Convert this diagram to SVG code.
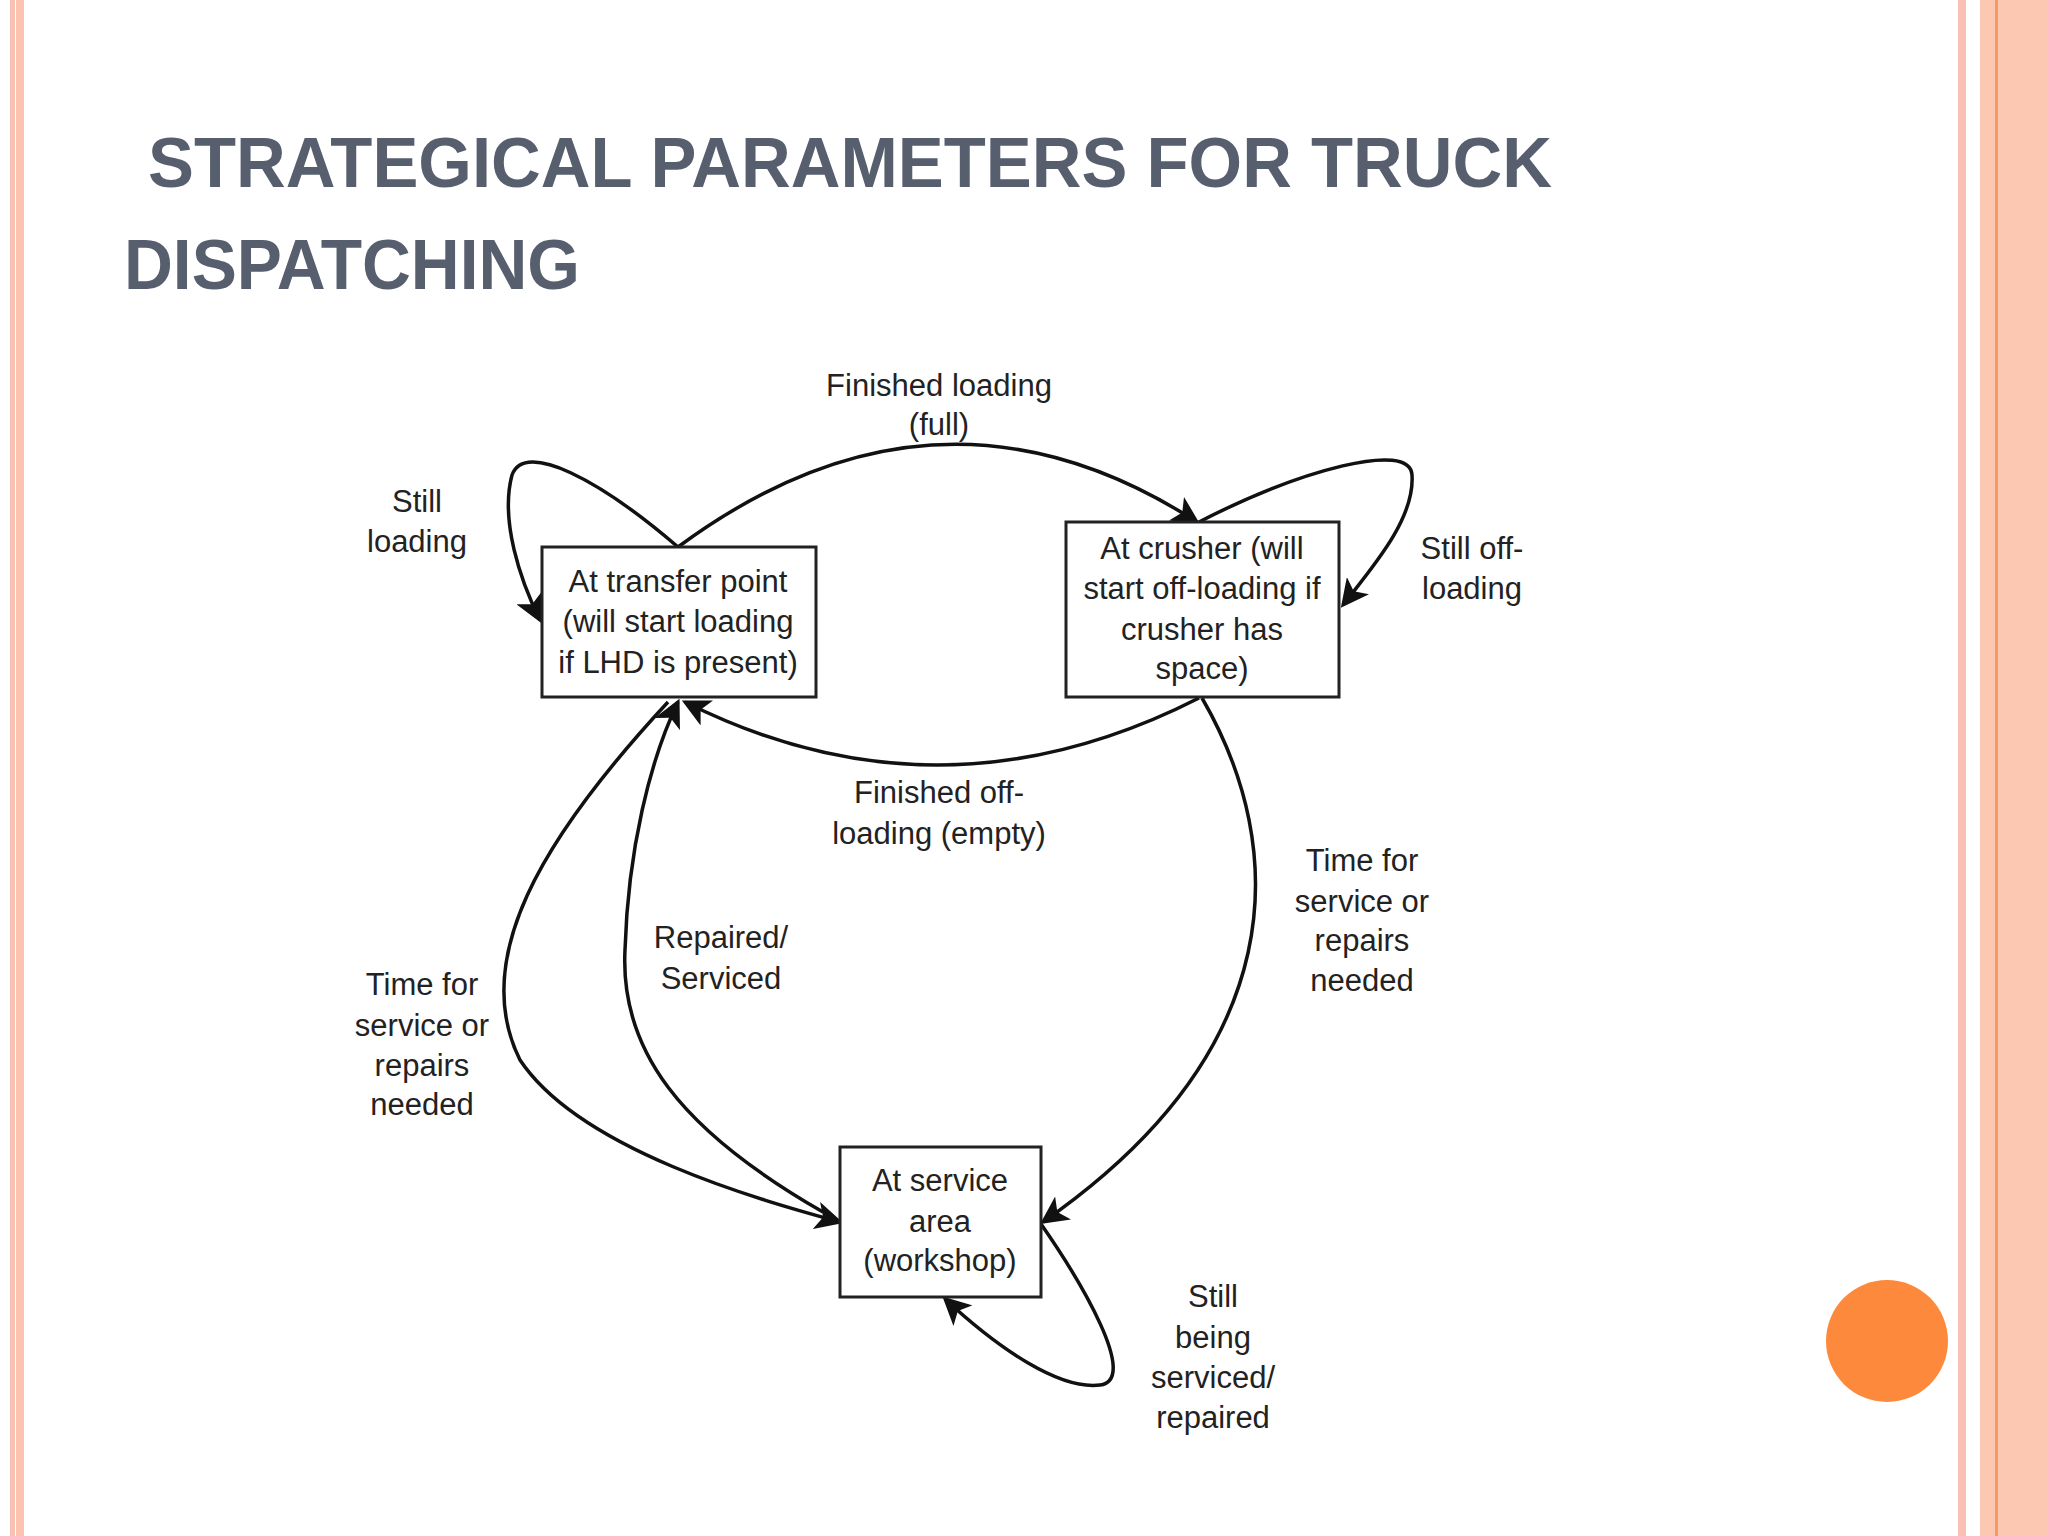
<svg xmlns="http://www.w3.org/2000/svg" width="2048" height="1536" viewBox="0 0 2048 1536">
<style>
.t{font-family:"Liberation Sans",Arial,sans-serif;font-size:31px;fill:#222;text-anchor:middle}
.h{font-family:"Liberation Sans",Arial,sans-serif;font-size:70px;font-weight:bold;fill:#575f6e}
.box{fill:#fff;stroke:#222;stroke-width:3}
.c{fill:none;stroke:#111;stroke-width:3.5;marker-end:url(#a)}
</style>
<defs><marker id="a" markerWidth="8" markerHeight="8" refX="7" refY="4" orient="auto" markerUnits="strokeWidth"><path d="M0,0 L8,4 L0,8 L2,4 Z" fill="#111"/></marker></defs>
<rect width="2048" height="1536" fill="#fff"/>
<rect x="10" y="0" width="5" height="1536" fill="#f9c0b4"/>
<rect x="16" y="0" width="8" height="1536" fill="#fcc3ae"/>
<rect x="1958" y="0" width="8" height="1536" fill="#f9c0b4"/>
<rect x="1980" y="0" width="68" height="1536" fill="#fdc8b2"/>
<rect x="1995" y="0" width="3" height="1536" fill="#f79a60"/>
<text class="h" x="148" y="187" textLength="1404" lengthAdjust="spacingAndGlyphs">STRATEGICAL PARAMETERS FOR TRUCK</text>
<text class="h" x="124" y="289" textLength="456" lengthAdjust="spacingAndGlyphs">DISPATCHING</text>
<circle cx="1887" cy="1341" r="61" fill="#fd8a3c"/>
<g id="connectors">
<path class="c" d="M678,547 Q938,355 1197,522"/>
<path class="c" d="M678,547 C600,480 525,440 512,475 C500,520 520,580 540,620"/>
<path class="c" d="M1199,522 C1300,470 1410,440 1412,475 C1415,520 1370,570 1343,605"/>
<path class="c" d="M1199,698 Q940,830 685,702"/>
<path class="c" d="M1202,698 C1290,850 1290,1050 1043,1222"/>
<path class="c" d="M668,702 C540,840 470,960 520,1060 C580,1150 760,1200 840,1222"/>
<path class="c" d="M823,1212 C680,1130 620,1050 625,950 C628,850 650,760 678,702"/>
<path class="c" d="M1041,1224 C1080,1280 1140,1380 1100,1385 C1060,1390 1000,1350 945,1299"/>
</g>
<g id="transfer"><rect class="box" x="542" y="547" width="274" height="150"/>
<text class="t" x="678" y="592">At transfer point</text><text class="t" x="678" y="632">(will start loading</text><text class="t" x="678" y="673">if LHD is present)</text></g>
<g id="crusher"><rect class="box" x="1066" y="522" width="273" height="175"/>
<text class="t" x="1202" y="559">At crusher (will</text><text class="t" x="1202" y="599">start off-loading if</text><text class="t" x="1202" y="640">crusher has</text><text class="t" x="1202" y="679">space)</text></g>
<g id="service"><rect class="box" x="840" y="1147" width="201" height="150"/>
<text class="t" x="940" y="1191">At service</text><text class="t" x="940" y="1232">area</text><text class="t" x="940" y="1271">(workshop)</text></g>
<g id="labels">
<text class="t" x="939" y="396">Finished loading</text><text class="t" x="939" y="435">(full)</text>
<text class="t" x="417" y="512">Still</text><text class="t" x="417" y="552">loading</text>
<text class="t" x="1472" y="559">Still off-</text><text class="t" x="1472" y="599">loading</text>
<text class="t" x="939" y="803">Finished off-</text><text class="t" x="939" y="844">loading (empty)</text>
<text class="t" x="1362" y="871">Time for</text><text class="t" x="1362" y="912">service or</text><text class="t" x="1362" y="951">repairs</text><text class="t" x="1362" y="991">needed</text>
<text class="t" x="721" y="948">Repaired/</text><text class="t" x="721" y="989">Serviced</text>
<text class="t" x="422" y="995">Time for</text><text class="t" x="422" y="1036">service or</text><text class="t" x="422" y="1076">repairs</text><text class="t" x="422" y="1115">needed</text>
<text class="t" x="1213" y="1307">Still</text><text class="t" x="1213" y="1348">being</text><text class="t" x="1213" y="1388">serviced/</text><text class="t" x="1213" y="1428">repaired</text>
</g>
</svg>
